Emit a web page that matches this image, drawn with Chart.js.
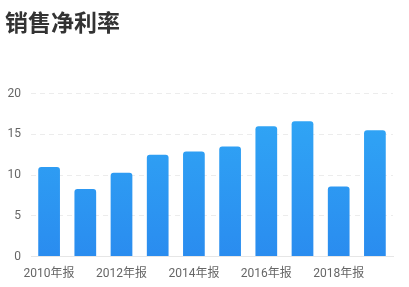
<!DOCTYPE html>
<html>
<head>
<meta charset="utf-8">
<script src="https://cdn.jsdelivr.net/npm/chart.js@4"></script>
<style>
    html, body { margin: 0; padding: 0; background: #fff; }
    #wrap { position: relative; width: 409px; height: 287px; }
</style>
</head>
<body>
<div id="wrap"><canvas id="chart"></canvas></div>
<script>
// Data
const categories = ['2010年报', '2011年报', '2012年报', '2013年报', '2014年报',
    '2015年报', '2016年报', '2017年报', '2018年报', '2019年报'];
const netMargin = [11.0, 8.3, 10.3, 12.5, 12.9, 13.5, 16.0, 16.6, 8.6, 15.5];
const yTicks = [0, 5, 10, 15, 20];

const FONT = 'Roboto, "Noto Sans CJK SC", sans-serif';

function barGradient(ctx) {
    const area = ctx.chart.chartArea;
    if (!area) return '#2d9bf2';
    const g = ctx.chart.ctx.createLinearGradient(0, area.top, 0, area.bottom);
    g.addColorStop(0, '#31a9f6');
    g.addColorStop(1, '#2a8cef');
    return g;
}

new Chart(document.getElementById('chart'), {
    type: 'bar',
    data: {
        labels: categories,
        datasets: [{
            label: '销售净利率',
            data: netMargin,
            backgroundColor: barGradient,
            borderRadius: { topLeft: 3, topRight: 3 },
            borderSkipped: 'bottom',
            categoryPercentage: 0.6,
            barPercentage: 1
        }]
    },
    options: {
        responsive: true,
        maintainAspectRatio: false,
        animation: false,
        layout: { padding: { left: 5, right: 16, top: 8, bottom: 4 } },
        plugins: {
            legend: { display: false },
            tooltip: { enabled: false },
            title: {
                display: true,
                text: '销售净利率',
                align: 'start',
                color: '#333',
                font: { family: '"Noto Sans CJK SC", sans-serif', size: 23, weight: 'bold' },
                padding: { top: 0, bottom: 58 }
            }
        },
        scales: {
            x: {
                afterFit: (axis) => { axis.paddingLeft = 0; axis.paddingRight = 0; },
                grid: { display: false },
                border: { display: true, color: '#e6e6e6' },
                ticks: {
                    color: '#666',
                    font: { family: FONT, size: 12 },
                    maxRotation: 0,
                    autoSkip: false,
                    padding: 2,
                    callback: function (value, index) {
                        return index % 2 === 0 ? categories[index] : '';
                    }
                }
            },
            y: {
                min: 0,
                max: 20,
                afterBuildTicks: (axis) => { axis.ticks = yTicks.map(v => ({ value: v })); },
                afterFit: (axis) => { axis.width = 26; },
                grid: { color: '#ececec', drawTicks: false },
                border: { display: false, dash: [5, 4] },
                ticks: {
                    color: '#666',
                    font: { family: FONT, size: 12 },
                    padding: 10
                }
            }
        }
    }
});
</script>
</body>
</html>
